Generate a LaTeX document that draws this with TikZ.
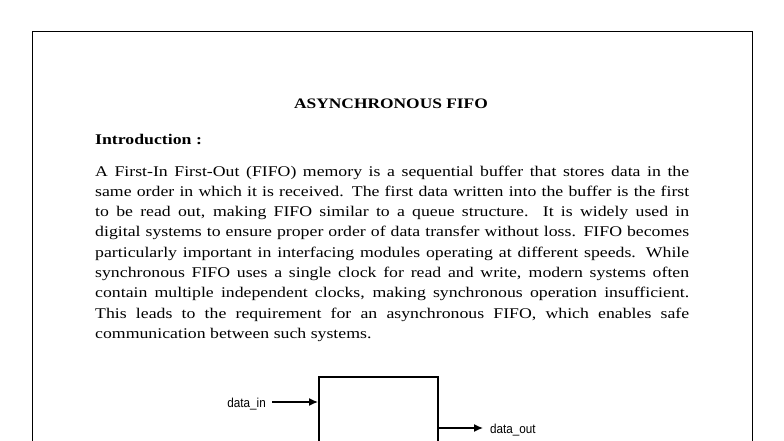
\documentclass[tikz,border=0pt]{standalone}
\usetikzlibrary{arrows.meta}
\usepackage{fontspec}
\setmainfont[FakeStretch=1.2]{Liberation Serif}
\newfontfamily\lblfont[FakeStretch=0.9]{Liberation Sans}
\begin{document}
\begin{tikzpicture}[x=1pt,y=-1pt,
  para/.style={anchor=base west,inner sep=0pt,font=\fontsize{14.8}{17}\selectfont},
  lbl/.style={anchor=base west,inner sep=0pt,font=\lblfont\fontsize{13}{15}\selectfont},
  arr/.style={line width=1.4pt,-{Latex[length=9pt,width=8pt]}}]
\useasboundingbox (0,0) rectangle (784,441);
\clip (0,0) rectangle (784,441);
\draw[line width=0.9pt] (32,31) rectangle (752,470);
\node[anchor=base,inner sep=0pt,font=\bfseries\fontsize{14.5}{17}\selectfont] (title) at (391,109) {ASYNCHRONOUS FIFO};
\node[para,font=\bfseries\fontsize{14.8}{17}\selectfont] (intro) at (95,144) {Introduction :};
\foreach \t [count=\i from 0] in {
{A First-In First-Out (FIFO) memory is a sequential buffer that stores data in the},
{same order in which it is received. The first data written into the buffer is the first},
{to be read out, making FIFO similar to a queue structure. It is widely used in},
{digital systems to ensure proper order of data transfer without loss. FIFO becomes},
{particularly important in interfacing modules operating at different speeds. While},
{synchronous FIFO uses a single clock for read and write, modern systems often},
{contain multiple independent clocks, making synchronous operation insufficient.},
{This leads to the requirement for an asynchronous FIFO, which enables safe}}
  \node[para] (l\i) at (95,{176+20.3*\i}) {\makebox[594pt][s]{\t}};
\node[para] (l8) at (95,{176+20.3*8}) {communication between such systems.};
\draw[line width=1.5pt] (319,470) -- (319,377) -- (438,377) -- (438,470);
\coordinate (inS) at (272,402);
\coordinate (inE) at (318,402);
\coordinate (outS) at (438,428);
\coordinate (outE) at (483,428);
\node[lbl,anchor=base east] (din) at (266,407) {data\_in};
\node[lbl,anchor=base west] (dout) at (490,433) {data\_out};
\draw[arr] (inS) -- (inE);
\draw[arr] (outS) -- (outE);
\end{tikzpicture}
\end{document}
